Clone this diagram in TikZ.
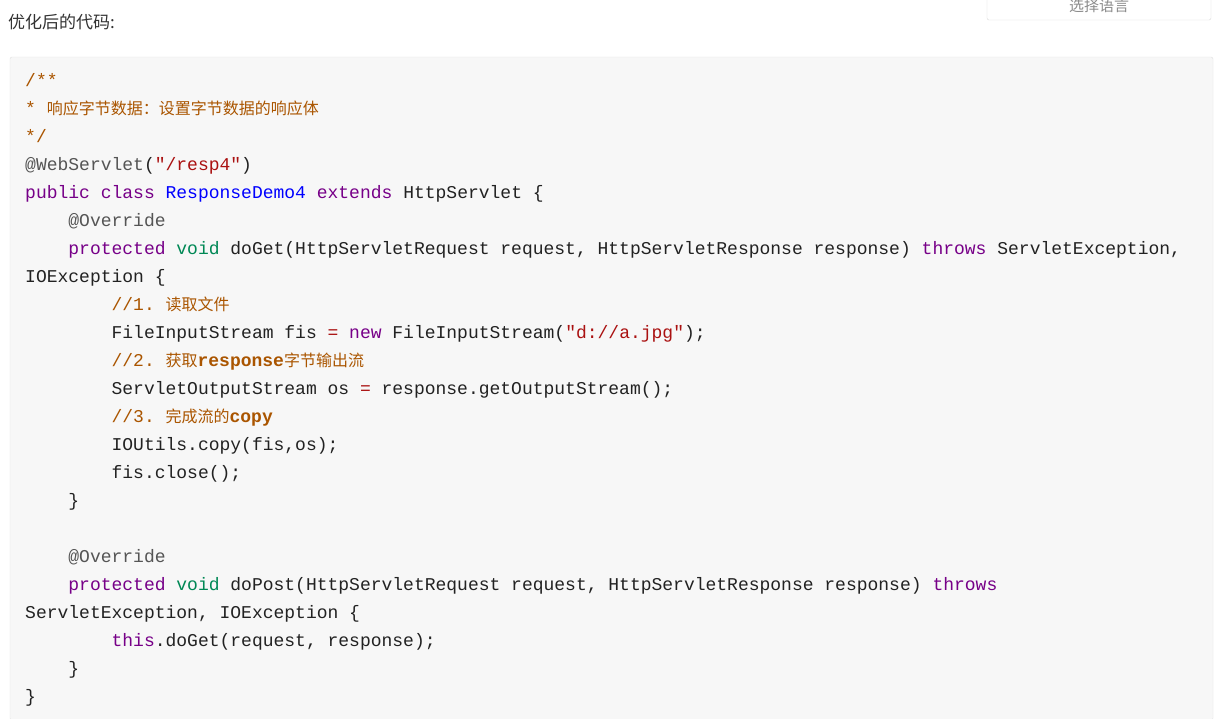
\documentclass[tikz,border=0pt]{standalone}
\usepackage{fontspec}
\setmonofont{Liberation Mono}
\newfontfamily\cjk{Noto Sans CJK SC}
\definecolor{kw}{HTML}{770088}
\definecolor{cls}{HTML}{0000FF}
\definecolor{str}{HTML}{AA1111}
\definecolor{cmt}{HTML}{AA5500}
\definecolor{ty}{HTML}{008855}
\definecolor{ann}{HTML}{555555}
\definecolor{txt}{HTML}{222222}
\newcommand\zh[1]{{\cjk\fontsize{16}{16}\selectfont #1}}
\newcommand\kw[1]{\textcolor{kw}{#1}}
\newcommand\cl[1]{\textcolor{cls}{#1}}
\newcommand\st[1]{\textcolor{str}{#1}}
\newcommand\cm[1]{\textcolor{cmt}{#1}}
\newcommand\ty[1]{\textcolor{ty}{#1}}
\newcommand\an[1]{\textcolor{ann}{#1}}
\newcommand\op[1]{\textcolor{str}{#1}}
\begin{document}
\begin{tikzpicture}[x=1pt,y=-1pt,
  code/.style={anchor=base west,inner sep=0pt,text=txt,font=\ttfamily\fontsize{18}{18}\selectfont},
  ui/.style={inner sep=0pt,font=\cjk\fontsize{15}{15}\selectfont}]
\useasboundingbox (0,0) rectangle (1214,718);
\fill[white] (0,0) rectangle (1214,718);
\draw[fill=white,draw=black!15,rounded corners=2pt] (987,-5) rectangle (1211,20);
\node[ui,text=black!45] (btn) at (1099,6) {选择语言};
\node[ui,anchor=west,text=black!80,font=\cjk\fontsize{17}{17}\selectfont] (title) at (8,22) {优化后的代码:};
\draw[fill=black!3,draw=black!12,rounded corners=2pt] (10,57) rectangle (1213,720);
\def\b#1{\numexpr 86+28*(#1-1)\relax}
\node[code] (l1) at (25,86) {\cm{/**}};
\node[code] (l2) at (25,114) {\cm{ * \zh{响应字节数据：设置字节数据的响应体}}};
\node[code] (l3) at (25,142) {\cm{ */}};
\node[code] (l4) at (25,170) {\an{@WebServlet}(\st{"/resp4"})};
\node[code] (l5) at (25,198) {\kw{public} \kw{class} \cl{ResponseDemo4} \kw{extends} HttpServlet \{};
\node[code] (l6) at (68.2,226) {\an{@Override}};
\node[code] (l7) at (68.2,254) {\kw{protected} \ty{void} doGet(HttpServletRequest request, HttpServletResponse response) \kw{throws} ServletException,};
\node[code] (l8) at (25,282) {IOException \{};
\node[code] (l9) at (111.4,310) {\cm{//1. \zh{读取文件}}};
\node[code] (l10) at (111.4,338) {FileInputStream fis \op{=} \kw{new} FileInputStream(\st{"d://a.jpg"});};
\node[code] (l11) at (111.4,366) {\cm{//2. \zh{获取}\textbf{response}\zh{字节输出流}}};
\node[code] (l12) at (111.4,394) {ServletOutputStream os \op{=} response.getOutputStream();};
\node[code] (l13) at (111.4,422) {\cm{//3. \zh{完成流的}\textbf{copy}}};
\node[code] (l14) at (111.4,450) {IOUtils.copy(fis,os);};
\node[code] (l15) at (111.4,478) {fis.close();};
\node[code] (l16) at (68.2,506) {\}};
\node[code] (l18) at (68.2,562) {\an{@Override}};
\node[code] (l19) at (68.2,590) {\kw{protected} \ty{void} doPost(HttpServletRequest request, HttpServletResponse response) \kw{throws}};
\node[code] (l20) at (25,618) {ServletException, IOException \{};
\node[code] (l21) at (111.4,646) {\kw{this}.doGet(request, response);};
\node[code] (l22) at (68.2,674) {\}};
\node[code] (l23) at (25,702) {\}};
\end{tikzpicture}
\end{document}
